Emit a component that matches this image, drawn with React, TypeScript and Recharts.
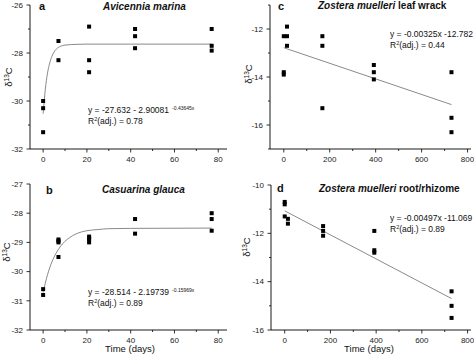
import React from 'react';
import { ScatterChart, Scatter, XAxis, YAxis } from 'recharts';

// panel a — Avicennia marina
const aDays = [0, 0, 0, 7, 7, 21, 21, 21, 42, 42, 42, 77, 77, 77];
const aD13C = [-30.0, -30.3, -31.3, -27.5, -28.3, -26.9, -28.3, -28.8, -27.0, -27.3, -27.8, -27.0, -27.7, -27.9];
const aFitDays = [0, 1, 2, 3, 4, 5, 6, 8, 10, 15, 20, 40, 77];
const aFitD13C = [-30.53, -29.51, -28.84, -28.42, -28.14, -27.96, -27.84, -27.72, -27.67, -27.64, -27.63, -27.63, -27.63];

// panel b — Casuarina glauca
const bDays = [0, 0, 7, 7, 7, 7, 21, 21, 21, 21, 42, 42, 77, 77, 77];
const bD13C = [-30.6, -30.8, -28.9, -28.95, -29.0, -29.5, -28.8, -28.85, -28.9, -29.0, -28.2, -28.7, -28.0, -28.2, -28.6];
const bFitDays = [0, 2, 4, 6, 8, 10, 12, 15, 20, 25, 30, 40, 77];
const bFitD13C = [-30.71, -30.11, -29.67, -29.36, -29.13, -28.96, -28.84, -28.71, -28.6, -28.56, -28.53, -28.52, -28.51];

// panel c — Zostera muelleri leaf wrack
const cDays = [0, 0, 0, 14, 14, 14, 168, 168, 168, 392, 392, 392, 730, 730, 730];
const cD13C = [-12.3, -13.8, -13.9, -12.3, -11.9, -12.7, -12.3, -12.7, -15.3, -13.5, -13.8, -14.1, -13.8, -15.7, -16.3];
const cFitDays = [0, 730];
const cFitD13C = [-12.78, -15.15];

// panel d — Zostera muelleri root/rhizome
const dDays = [0, 0, 0, 14, 14, 168, 168, 168, 392, 392, 392, 730, 730, 730];
const dD13C = [-10.7, -10.8, -11.3, -11.4, -11.6, -11.7, -11.9, -12.1, -11.9, -12.7, -12.8, -14.4, -15.0, -15.5];
const dFitDays = [0, 730];
const dFitD13C = [-11.07, -14.7];

// tick labels
const shortMajor = [0, 20, 40, 60, 80];
const shortMinor = [10, 30, 50, 70];
const longMajor = [0, 200, 400, 600];
const longMinor = [100, 300, 500, 700];
const longEdge = 800; // sits on the axis end, recharts drops it -> drawn in the overlay
const longDomain: [number, number] = [-60, 815];

const FONT = '"Liberation Sans", Arial, sans-serif';
const toPts = (xs: number[], ys: number[]) => xs.map((x, i) => ({ x, y: ys[i] }));

function XTick({ x, y, payload, major }: any) {
  const isMajor = major.includes(payload.value);
  return (
    <g>
      <line x1={x} x2={x} y1={y} y2={y + (isMajor ? 3.5 : 2)} stroke="#000" strokeWidth={0.8} />
      {isMajor && (
        <text x={x} y={y + 12.5} textAnchor="middle" fontSize={8} fill="#222" fontFamily={FONT}>
          {payload.value}
        </text>
      )}
    </g>
  );
}

function YTick({ x, y, payload, major }: any) {
  const isMajor = major.includes(payload.value);
  return (
    <g>
      <line x1={x} x2={x - (isMajor ? 3.5 : 2)} y1={y} y2={y} stroke="#000" strokeWidth={0.8} />
      {isMajor && (
        <text x={x - 7} y={y + 2.8} textAnchor="end" fontSize={8} fill="#222" fontFamily={FONT}>
          {payload.value}
        </text>
      )}
    </g>
  );
}

const Square = (p: any) => <rect x={p.cx - 2} y={p.cy - 2} width={4} height={4} fill="#000" />;
const Nothing = () => <g />;

interface PanelProps {
  left: number;
  top: number;
  height: number;
  yAxisWidth: number;
  xAxisHeight: number;
  marginTop: number;
  marginRight: number;
  xDomain: [number, number];
  xMajor: number[];
  xMinor: number[];
  yDomain: [number, number];
  yMajor: number[];
  yMinor: number[];
  points: { x: number; y: number }[];
  fit: { x: number; y: number }[];
  curved: boolean;
}

function Panel(p: PanelProps) {
  const xTicks = [...p.xMajor, ...p.xMinor].sort((m, n) => m - n);
  const yTicks = [...p.yMajor, ...p.yMinor].sort((m, n) => m - n);
  return (
    <div style={{ position: 'absolute', left: p.left, top: p.top }}>
      <ScatterChart
        width={237}
        height={p.height}
        margin={{ top: p.marginTop, right: p.marginRight, bottom: 0, left: 0 }}
      >
        <XAxis
          type="number"
          dataKey="x"
          domain={p.xDomain}
          allowDataOverflow
          ticks={xTicks}
          interval={0}
          height={p.xAxisHeight}
          tickSize={0}
          tickMargin={0}
          tickLine={false}
          axisLine={{ stroke: '#000', strokeWidth: 0.9 }}
          tick={(t: any) => <XTick {...t} major={p.xMajor} />}
        />
        <YAxis
          type="number"
          dataKey="y"
          domain={p.yDomain}
          allowDataOverflow
          ticks={yTicks}
          interval={0}
          width={p.yAxisWidth}
          tickSize={0}
          tickMargin={0}
          tickLine={false}
          axisLine={{ stroke: '#000', strokeWidth: 0.9 }}
          tick={(t: any) => <YTick {...t} major={p.yMajor} />}
        />
        <Scatter
          data={p.fit}
          line={{ stroke: '#8a8a8a', strokeWidth: 1 }}
          lineJointType={p.curved ? 'monotoneX' : 'linear'}
          shape={Nothing}
          isAnimationActive={false}
        />
        <Scatter data={p.points} shape={Square} isAnimationActive={false} />
      </ScatterChart>
    </div>
  );
}

function YLabel({ x, y }: { x: number; y: number }) {
  return (
    <text x={x} y={y} transform={`rotate(-90, ${x}, ${y})`} textAnchor="middle" fontSize={9.5}>
      δ<tspan dy={-3} fontSize={6.5}>13</tspan>
      <tspan dy={3}>C</tspan>
    </text>
  );
}

function Equation({ x, y, main, sup, r2 }: { x: number; y: number; main: string; sup?: string; r2: string }) {
  return (
    <g fontSize={8.5}>
      <text x={x} y={y}>
        {main}
        {sup && (
          <tspan dx={3} dy={-3} fontSize={5}>
            {sup}
          </tspan>
        )}
      </text>
      <text x={x} y={y + 11}>
        R<tspan dy={-3} fontSize={5.5}>2</tspan>
        <tspan dy={3}>(adj.) = {r2}</tspan>
      </text>
    </g>
  );
}

// right-edge tick of the c/d x axes
function EdgeTick({ axisLeft, axisY }: { axisLeft: number; axisY: number }) {
  const plotW = 237 - (axisLeft - 237) - 3;
  const x = axisLeft + ((longEdge - longDomain[0]) / (longDomain[1] - longDomain[0])) * plotW;
  return <XTick x={x} y={axisY} payload={{ value: longEdge }} major={[longEdge]} />;
}

export default function App() {
  return (
    <div style={{ position: 'fixed', left: 0, top: 0, width: 474, height: 355, background: '#fff', overflow: 'hidden' }}>
      <Panel
        left={0} top={0} height={177} yAxisWidth={30} xAxisHeight={28} marginTop={5} marginRight={10}
        xDomain={[-6, 84]} xMajor={shortMajor} xMinor={shortMinor}
        yDomain={[-32, -26]} yMajor={[-32, -30, -28, -26]} yMinor={[-31, -29, -27]}
        points={toPts(aDays, aD13C)} fit={toPts(aFitDays, aFitD13C)} curved
      />
      <Panel
        left={0} top={177} height={178} yAxisWidth={30} xAxisHeight={25} marginTop={7} marginRight={10}
        xDomain={[-6, 84]} xMajor={shortMajor} xMinor={shortMinor}
        yDomain={[-32, -27]} yMajor={[-32, -31, -30, -29, -28, -27]} yMinor={[]}
        points={toPts(bDays, bD13C)} fit={toPts(bFitDays, bFitD13C)} curved
      />
      <Panel
        left={237} top={0} height={177} yAxisWidth={33} xAxisHeight={28} marginTop={5} marginRight={3}
        xDomain={longDomain} xMajor={longMajor} xMinor={longMinor}
        yDomain={[-17, -11]} yMajor={[-16, -14, -12]} yMinor={[-17, -15, -13, -11]}
        points={toPts(cDays, cD13C)} fit={toPts(cFitDays, cFitD13C)} curved={false}
      />
      <Panel
        left={237} top={177} height={178} yAxisWidth={34} xAxisHeight={25} marginTop={8} marginRight={3}
        xDomain={longDomain} xMajor={longMajor} xMinor={longMinor}
        yDomain={[-16, -10]} yMajor={[-16, -14, -12, -10]} yMinor={[-15, -13, -11]}
        points={toPts(dDays, dD13C)} fit={toPts(dFitDays, dFitD13C)} curved={false}
      />
      <svg
        width={474}
        height={355}
        style={{ position: 'absolute', left: 0, top: 0, pointerEvents: 'none' }}
        fontFamily={FONT}
        fill="#111"
      >
        <EdgeTick axisLeft={270} axisY={149} />
        <EdgeTick axisLeft={271} axisY={330} />

        <text x={39} y={10} fontSize={11} fontWeight="bold">a</text>
        <text x={103} y={10} fontSize={10} fontWeight="bold" fontStyle="italic">Avicennia marina</text>
        <text x={46} y={194} fontSize={11} fontWeight="bold">b</text>
        <text x={102} y={193} fontSize={10} fontWeight="bold" fontStyle="italic">Casuarina glauca</text>
        <text x={278} y={10} fontSize={11} fontWeight="bold">c</text>
        <text x={318} y={9} fontSize={10} fontWeight="bold">
          <tspan fontStyle="italic">Zostera muelleri</tspan> leaf wrack
        </text>
        <text x={277} y={192} fontSize={11} fontWeight="bold">d</text>
        <text x={319} y={192} fontSize={10} fontWeight="bold">
          <tspan fontStyle="italic">Zostera muelleri</tspan> root/rhizome
        </text>

        <YLabel x={12} y={77} />
        <YLabel x={10} y={252} />
        <YLabel x={252} y={74} />
        <YLabel x={250} y={247} />

        <Equation x={88} y={113} main="y = -27.632 - 2.90081" sup="-0.43645x" r2="0.78" />
        <Equation x={88} y={295} main="y = -28.514 - 2.19739" sup="-0.15969x" r2="0.89" />
        <Equation x={390} y={37} main="y = -0.00325x -12.782" r2="0.44" />
        <Equation x={390} y={221} main="y = -0.00497x -11.069" r2="0.89" />

        <text x={130} y={352} fontSize={9.5} textAnchor="middle">Time (days)</text>
        <text x={369} y={352} fontSize={9.5} textAnchor="middle">Time (days)</text>
      </svg>
    </div>
  );
}
